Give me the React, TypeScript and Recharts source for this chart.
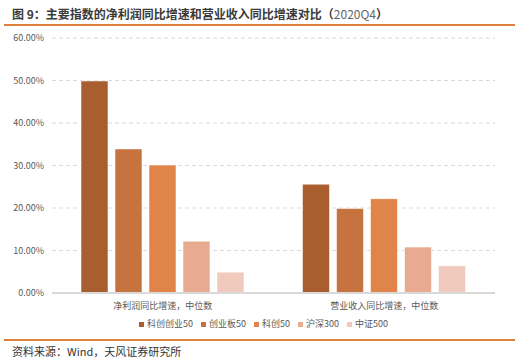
import React from 'react';
import { BarChart, Bar, XAxis, YAxis, CartesianGrid } from 'recharts';

const categories = ['净利润同比增速，中位数', '营业收入同比增速，中位数'];
const seriesNames = ['科创创业50', '创业板50', '科创50', '沪深300', '中证500'];
const kcCy50 = [49.9, 25.6];
const cyb50 = [33.9, 19.9];
const kc50 = [30.1, 22.2];
const hs300 = [12.2, 10.8];
const zz500 = [4.9, 6.4];
const yTicks = [0, 10, 20, 30, 40, 50, 60];
const colors = ['#A95E30', '#C77340', '#E0844A', '#E8AB91', '#F0CABD'];

const seriesValues = [kcCy50, cyb50, kc50, hs300, zz500];
const data = categories.map((c, i) => {
  const row: Record<string, any> = { name: c };
  seriesNames.forEach((s, j) => {
    row[s] = seriesValues[j][i];
  });
  return row;
});

const FONT = '"Noto Sans CJK SC", "Noto Sans", sans-serif';

export default function App() {
  return (
    <div style={{ position: 'fixed', left: 0, top: 0, width: 523, height: 363, background: '#fff', fontFamily: FONT, overflow: 'hidden' }}>
      <div style={{ position: 'absolute', left: 12, top: 5, fontSize: 12, fontWeight: 700, color: '#3a3a3a', whiteSpace: 'nowrap', lineHeight: '18px' }}>
        图 9：主要指数的净利润同比增速和营业收入同比增速对比（<span style={{ fontWeight: 400, color: '#666' }}>2020Q4</span>）
      </div>
      <div style={{ position: 'absolute', left: 4, top: 24, width: 511, height: 2, background: '#E07E3C' }} />
      <div style={{ position: 'absolute', left: 0, top: 0 }}>
        <BarChart width={523} height={336} data={data} margin={{ top: 38, right: 28, bottom: 13, left: 0 }} barSize={27} barGap={7}>
          <CartesianGrid vertical={false} stroke="#d9d9d9" strokeDasharray="4 3" />
          <XAxis dataKey="name" height={30} axisLine={{ stroke: '#d9d9d9', strokeWidth: 2 }} tickLine={false} tick={{ fontSize: 9, fill: '#595959', fontFamily: FONT, dy: 2 }} />
          <YAxis width={52} domain={[0, 60]} ticks={yTicks} axisLine={false} tickLine={false} tickFormatter={(v: number) => v.toFixed(2) + '%'} tick={{ fontSize: 9, fill: '#595959', fontFamily: FONT }} />
          {seriesNames.map((s, i) => (
            <Bar key={s} dataKey={s} fill={colors[i]} stroke="rgba(255,255,255,0.55)" strokeWidth={1} isAnimationActive={false} />
          ))}
        </BarChart>
      </div>
      <div style={{ position: 'absolute', left: 139, top: 316, display: 'flex', alignItems: 'center', fontSize: 9, color: '#595959', whiteSpace: 'nowrap', lineHeight: '16px' }}>
        {seriesNames.map((s, i) => (
          <div key={s} style={{ display: 'flex', alignItems: 'center', marginRight: 8 }}>
            <span style={{ display: 'inline-block', width: 5, height: 5, background: colors[i], marginRight: 3 }} />
            <span>{s}</span>
          </div>
        ))}
      </div>
      <div style={{ position: 'absolute', left: 4, top: 339, width: 511, height: 2, background: '#E07E3C' }} />
      <div style={{ position: 'absolute', left: 12, top: 343, fontSize: 11, color: '#333', whiteSpace: 'nowrap', lineHeight: '16px' }}>
        资料来源：Wind，天风证券研究所
      </div>
    </div>
  );
}
